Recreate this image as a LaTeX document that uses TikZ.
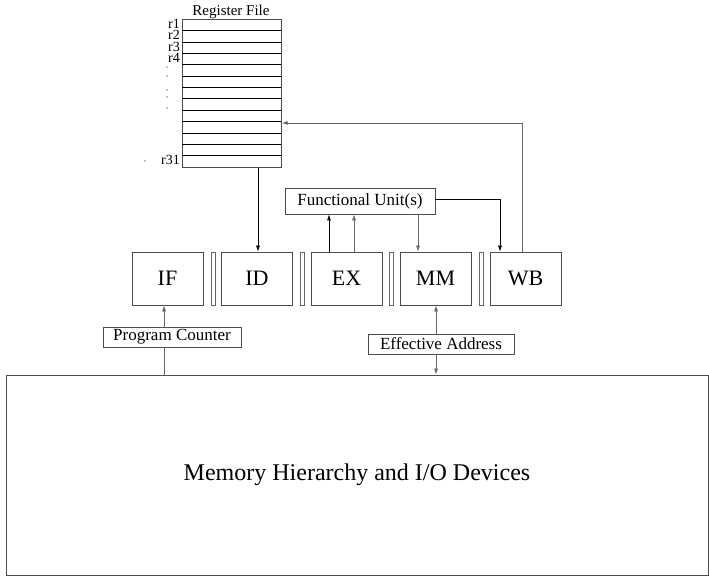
\documentclass[tikz,border=0pt]{standalone}
\usepackage{fontspec}
\setmainfont{Liberation Serif}
\usetikzlibrary{arrows.meta}
\begin{document}
\begin{tikzpicture}[x=1pt,y=-1pt,
  box/.style={draw=black!70,line width=0.7pt,inner sep=0pt},
  stage/.style={box,minimum width=71pt,minimum height=53pt,text height=15pt,text depth=0pt,font=\fontsize{22}{22}\selectfont},
  lab/.style={box,font=\fontsize{17}{17}\selectfont},
  rl/.style={anchor=east,inner sep=0pt,text height=8pt,text depth=0pt,font=\fontsize{14}{14}\selectfont},
  dot/.style={inner sep=0pt,minimum size=1.6pt,fill=black,circle},
  arr/.style={-{Latex[length=6pt,width=4pt]},line width=0.7pt},
  ln/.style={line width=0.6pt,draw=black!60},
  latch/.style={draw=black!60,line width=0.5pt}]
\useasboundingbox (0,0) rectangle (709,577);
% register file
\node[box,anchor=north west,minimum width=99pt,minimum height=148pt] (rf) at (182,19) {};
\foreach \i in {1,...,12}{\draw[line width=0.5pt] (182,{19+\i*11.38}) -- (281,{19+\i*11.38});}
\node[anchor=south,inner sep=0pt,text height=11pt,text depth=0pt,font=\fontsize{15}{15}\selectfont] (rft) at (231,16) {Register File};
\foreach \i/\t in {1/r1,2/r2,3/r3,4/r4}{\node[rl] (r\i) at (180,{19+\i*11.38-6}) {\t};}
\foreach \y [count=\k] in {67,76,90,97,108}{\node[dot,minimum size=1.3pt] (d\k) at (167,\y) {};}
\node[rl] (r31) at (180,161) {r31};
\node[dot,minimum size=1.3pt] (dd) at (145,161) {};
% stages
\node[stage] (IF) at (167.5,278.5) {IF};
\node[stage] (ID) at (257,278.5) {ID};
\node[stage] (EX) at (346.5,278.5) {EX};
\node[stage] (MM) at (435.5,278.5) {MM};
\node[stage] (WB) at (525.5,278.5) {WB};
\foreach \x in {211,300,389,479}{\draw[latch] (\x,252) rectangle (\x+4,305);}
% labels
\node[lab,minimum width=150pt,minimum height=26pt] (FU) at (360,201) {Functional Unit(s)};
\node[lab,minimum width=138pt,minimum height=20pt] (PC) at (172,337) {Program Counter};
\node[lab,minimum width=146pt,minimum height=20pt] (EA) at (441,344) {Effective Address};
\node[box,minimum width=702pt,minimum height=200pt,font=\fontsize{24}{24}\selectfont] (MEM) at (357,475) {Memory Hierarchy and I/O Devices};
% connectors
\draw[arr] (rf.south -| 258,0) -- (ID.north -| 258,0);
\draw[arr] (EX.north -| 329,0) -- (FU.south -| 329,0);
\draw[arr,draw=black!60] (EX.north -| 354,0) -- (FU.south -| 354,0);
\draw[arr,draw=black!60] (FU.south -| 418,0) -- (MM.north -| 418,0);
\draw[arr] (FU.east |- 0,199) -- (500,199) -- (WB.north -| 500,0);
\draw[arr,draw=black!60] (WB.north -| 522,0) -- (522,123) -- (rf.east |- 0,123);
\draw[arr,draw=black!60] (PC.north -| 164,0) -- (IF.south -| 164,0);
\draw[ln] (MEM.north -| 164,0) -- (PC.south -| 164,0);
\draw[arr,draw=black!60] (EA.north -| 436,0) -- (MM.south -| 436,0);
\draw[arr,draw=black!60] (EA.south -| 436,0) -- (MEM.north -| 436,0);
\end{tikzpicture}
\end{document}
